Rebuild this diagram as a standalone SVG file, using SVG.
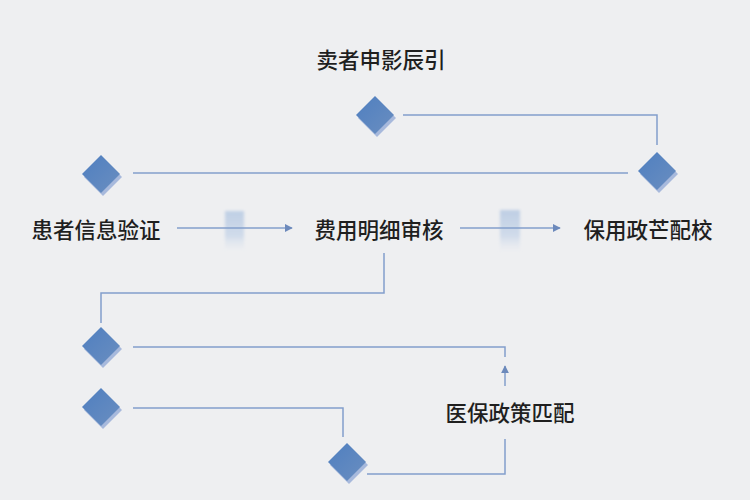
<svg xmlns="http://www.w3.org/2000/svg" width="750" height="500" viewBox="0 0 750 500">
<defs>
<linearGradient id="dg" x1="0" y1="0" x2="1" y2="1">
<stop offset="0" stop-color="#4f7fc0"/>
<stop offset="1" stop-color="#6a8ec0"/>
</linearGradient>
<linearGradient id="bg" x1="0" y1="0" x2="0" y2="1">
<stop offset="0" stop-color="#b9cbe3" stop-opacity="0.9"/>
<stop offset="0.6" stop-color="#c3d2e7" stop-opacity="0.7"/>
<stop offset="1" stop-color="#dfe6f0" stop-opacity="0"/>
</linearGradient>
<filter id="blur" x="-50%" y="-50%" width="200%" height="200%"><feGaussianBlur stdDeviation="1.5"/></filter>
<marker id="ah" viewBox="0 0 10 10" refX="9" refY="5" markerWidth="8" markerHeight="8" markerUnits="userSpaceOnUse" orient="auto">
<path d="M0,0 L10,5 L0,10 z" fill="#6c89bb"/>
</marker>
</defs>
<style>
.t{font-family:"Noto Sans CJK SC","Noto Sans",sans-serif;font-size:21.5px;font-weight:500;fill:#1f1f1f;text-anchor:middle;dominant-baseline:central}
.c{fill:none;stroke:#839fcb;stroke-width:1.5}
.sh{fill:#a7b9dc}
.d{fill:url(#dg)}
</style>
<rect width="750" height="500" fill="#eeeff1"/>
<g id="blurs">
<rect x="225" y="211" width="19" height="41" fill="url(#bg)" filter="url(#blur)"/>
<rect x="500" y="210" width="20" height="43" fill="url(#bg)" filter="url(#blur)"/>
</g>
<g id="connectors">
<polyline class="c" points="403,115 657,115 657,145"/>
<line class="c" x1="133" y1="173" x2="628" y2="173"/>
<line class="c" x1="177" y1="228" x2="292" y2="228" marker-end="url(#ah)"/>
<line class="c" x1="460" y1="228" x2="560" y2="228" marker-end="url(#ah)"/>
<polyline class="c" points="384,253 384,293 101,293 101,323"/>
<polyline class="c" points="133,347 505,347 505,357"/>
<line class="c" x1="505" y1="386" x2="505" y2="366" marker-end="url(#ah)"/>
<polyline class="c" points="133,408 343,408 343,437"/>
<polyline class="c" points="367,474 505,474 505,439"/>
</g>
<g id="n1"><path class="sh" d="M377,99 L396,118 L377,137 L358,118 z"/><path class="d" d="M375,96 L394,115 L375,134 L356,115 z"/></g>
<g id="n2"><path class="sh" d="M103,158 L122,177 L103,196 L84,177 z"/><path class="d" d="M101,155 L120,174 L101,193 L82,174 z"/></g>
<g id="n3"><path class="sh" d="M659,155 L678,174 L659,193 L640,174 z"/><path class="d" d="M657,152 L676,171 L657,190 L638,171 z"/></g>
<g id="n4"><path class="sh" d="M103,330 L122,349 L103,368 L84,349 z"/><path class="d" d="M101,327 L120,346 L101,365 L82,346 z"/></g>
<g id="n5"><path class="sh" d="M103,391 L122,410 L103,429 L84,410 z"/><path class="d" d="M101,388 L120,407 L101,426 L82,407 z"/></g>
<g id="n6"><path class="sh" d="M349,446 L368,465 L349,484 L330,465 z"/><path class="d" d="M347,443 L366,462 L347,481 L328,462 z"/></g>
<g id="l1"><text class="t" x="381" y="58">卖者申影辰引</text></g>
<g id="l2"><text class="t" x="96" y="228">患者信息验证</text></g>
<g id="l3"><text class="t" x="379" y="228">费用明细审核</text></g>
<g id="l4"><text class="t" x="648" y="228">保用政芒配校</text></g>
<g id="l5"><text class="t" x="510" y="411">医保政策匹配</text></g>
</svg>
